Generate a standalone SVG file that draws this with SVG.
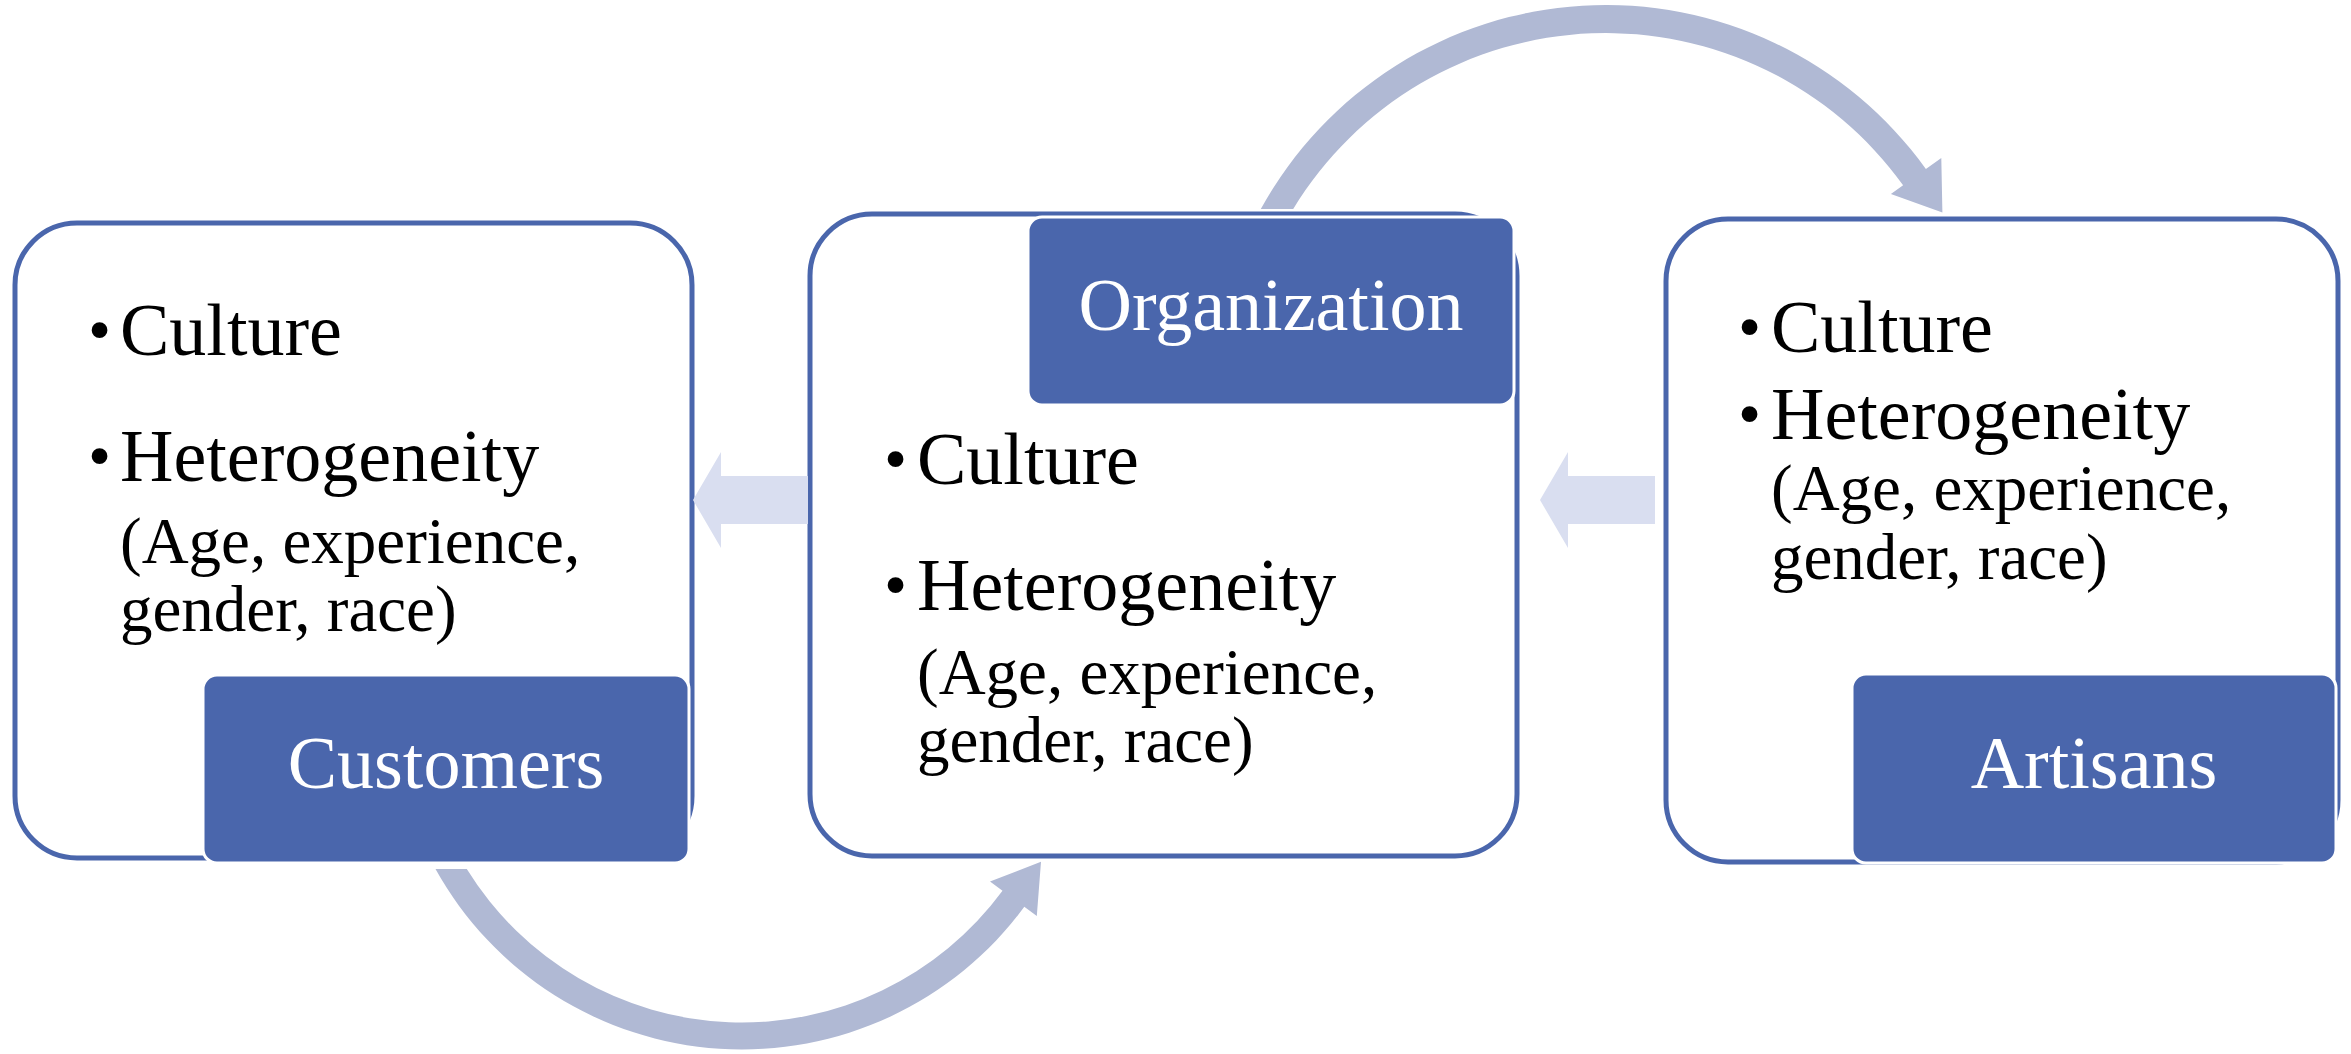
<svg xmlns="http://www.w3.org/2000/svg" width="2351" height="1054" viewBox="0 0 2351 1054">
  <style>
    .frame { fill: #ffffff; stroke: #4a66ac; stroke-width: 5; }
    .tag { fill: #4a66ac; stroke: #ffffff; stroke-width: 3; }
    .tag-text { font-family: "Liberation Serif", "DejaVu Serif", serif; font-size: 74px; fill: #ffffff; text-anchor: middle; }
    .item { font-family: "Liberation Serif", "DejaVu Serif", serif; font-size: 74px; fill: #000000; }
    .dot { font-family: "Liberation Serif", "DejaVu Serif", serif; font-size: 66px; fill: #000000; }
    .sub { font-family: "Liberation Serif", "DejaVu Serif", serif; font-size: 65px; fill: #000000; }
    .flow { fill: #b0b9d4; }
    .push { fill: #d9def0; }
  </style>
  <rect width="2351" height="1054" fill="#ffffff"/>

  <!-- Customers -->
  <g id="customers">
    <rect class="frame" x="15" y="223" width="677" height="635" rx="62"/>
    <text class="dot" x="88" y="352">•</text>
    <text class="item" x="120" y="355">Culture</text>
    <text class="dot" x="88" y="478">•</text>
    <text class="item" x="120" y="481">Heterogeneity</text>
    <text class="sub" x="120" y="563">(Age, experience,</text>
    <text class="sub" x="120" y="631">gender, race)</text>
    <rect class="tag" x="203" y="675" width="486" height="188" rx="14"/>
    <text class="tag-text" x="446" y="788">Customers</text>
  </g>

  <!-- Organization -->
  <g id="organization">
    <rect class="frame" x="810" y="214" width="707" height="642" rx="62"/>
    <rect class="tag" x="1028" y="217" width="486" height="188" rx="14"/>
    <text class="tag-text" x="1271" y="330">Organization</text>
    <text class="dot" x="884" y="481">•</text>
    <text class="item" x="917" y="484">Culture</text>
    <text class="dot" x="884" y="607">•</text>
    <text class="item" x="917" y="610">Heterogeneity</text>
    <text class="sub" x="917" y="694">(Age, experience,</text>
    <text class="sub" x="917" y="762">gender, race)</text>
  </g>

  <!-- Artisans -->
  <g id="artisans">
    <rect class="frame" x="1666" y="219" width="672" height="643" rx="62"/>
    <text class="dot" x="1738" y="349">•</text>
    <text class="item" x="1771" y="352">Culture</text>
    <text class="dot" x="1738" y="436">•</text>
    <text class="item" x="1771" y="439">Heterogeneity</text>
    <text class="sub" x="1771" y="510">(Age, experience,</text>
    <text class="sub" x="1771" y="579">gender, race)</text>
    <rect class="tag" x="1852" y="674" width="484" height="189" rx="14"/>
    <text class="tag-text" x="2094" y="788">Artisans</text>
  </g>

  <!-- Connectors -->
  <g id="connectors">
    <!-- Organization to Artisans, arcing over the top -->
    <path class="flow" d="M1260.8,209 A394,394 0 0 1 1925.9,169 L1941.3,157.9 L1942.4,212.5 L1890.9,194.1 L1903.1,185.3 A366,366 0 0 0 1293.2,209 Z"/>
    <!-- Customers to Organization, arcing underneath -->
    <path class="flow" d="M435.5,869 A350.5,350.5 0 0 0 1024.3,906.8 L1036.8,916 L1041,861.7 L990,881.6 L1002.5,890.8 A323.5,323.5 0 0 1 466.8,869 Z"/>
    <!-- Organization to Customers -->
    <polygon class="push" points="693,500 721,452 721,476 808,476 808,524 721,524 721,548"/>
    <!-- Artisans to Organization -->
    <polygon class="push" points="1540,500 1568,452 1568,476 1655,476 1655,524 1568,524 1568,548"/>
  </g>
</svg>
